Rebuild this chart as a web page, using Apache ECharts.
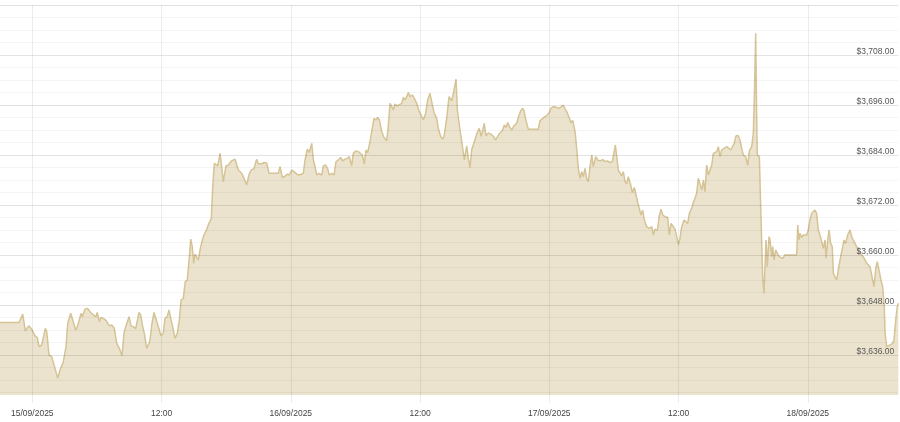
<!DOCTYPE html>
<html>
<head>
<meta charset="utf-8">
<script src="https://cdn.jsdelivr.net/npm/echarts@6/dist/echarts.min.js"></script>
<style>
html,body{margin:0;padding:0;background:#fff;}
#chart{width:900px;height:422px;}
</style>
</head>
<body>
<div id="chart"></div>
<script>
// Hours relative to 15/09/2025 00:00
const hours = [
-3.00,-1.23,-0.89,-0.65,-0.33,-0.06,0.25,0.46,0.62,0.87,1.02,1.21,1.34,1.55,1.80,2.11,2.36,2.57,2.88,3.13,3.29,3.57,3.75,3.87,4.03,4.21,4.34,4.52,4.64,4.89,5.11,5.36,5.66,5.91,6.03,6.22,6.38,6.59,6.84,7.00,7.15,7.37,7.61,7.84,8.08,8.33,8.51,8.67,8.76,8.98,9.16,9.38,9.60,9.75,9.91,10.06,10.25,10.40,10.62,10.83,
10.93,11.09,11.30,11.48,11.70,11.95,12.16,12.32,12.53,12.69,12.85,13.03,13.25,13.46,13.65,13.81,14.02,14.20,14.39,14.58,14.71,14.85,14.98,15.11,15.26,15.41,15.63,15.88,16.10,16.28,16.40,16.62,16.75,16.90,17.06,17.21,17.43,17.58,17.73,17.98,18.20,18.35,18.51,18.66,18.82,18.98,19.13,19.28,19.44,19.65,19.90,20.15,20.37,20.58,20.83,20.98,21.14,21.30,21.51,21.76,21.98,22.37,22.84,23.00,23.21,23.46,23.67,23.86,24.08,24.30,24.55,24.79,
25.16,25.32,25.53,25.72,25.94,26.09,26.25,26.40,26.62,26.87,27.02,27.24,27.43,27.57,27.80,28.01,28.20,28.41,28.63,28.82,29.03,29.24,29.43,29.65,29.80,30.05,30.27,30.42,30.64,30.82,30.98,31.14,31.35,31.51,31.72,31.91,32.07,32.22,32.44,32.65,32.90,33.05,33.21,33.37,33.52,33.67,33.89,34.07,34.30,34.44,34.60,34.76,34.91,35.07,35.28,35.47,35.69,35.90,36.09,36.30,36.52,36.71,36.92,37.14,37.32,37.54,37.69,37.92,38.10,38.25,38.47,38.69,
38.94,39.11,39.34,39.46,39.71,39.87,40.02,40.11,40.33,40.48,40.64,40.79,41.01,41.19,41.31,41.50,41.66,41.82,41.96,42.12,42.34,42.56,42.80,43.02,43.21,43.42,43.64,43.82,43.98,44.14,44.29,44.51,44.72,44.97,45.12,45.34,45.53,45.65,45.84,46.05,46.98,47.13,47.39,47.60,47.81,48.00,48.13,48.37,48.62,48.83,49.06,49.30,49.46,49.67,49.86,50.01,50.17,50.39,50.54,50.69,50.85,51.01,51.16,51.31,51.47,51.62,51.78,51.94,52.08,52.31,52.49,52.71,
52.96,53.17,53.38,53.63,53.85,54.01,54.13,54.26,54.40,54.56,54.72,54.87,55.03,55.18,55.33,55.56,55.70,55.89,56.05,56.21,56.35,56.51,56.67,56.82,57.04,57.26,57.51,57.65,57.81,58.03,58.21,58.37,58.53,58.74,58.99,59.14,59.30,59.46,59.67,59.83,59.98,60.13,60.29,60.51,60.69,60.85,61.00,61.22,61.37,61.53,61.68,61.83,61.99,62.15,62.30,62.45,62.61,62.76,62.92,63.08,63.23,63.38,63.54,63.69,63.85,64.00,64.22,64.47,64.62,64.84,64.99,65.17,65.33,65.55,65.70,65.86,66.01,66.23,66.42,66.57,
66.79,66.94,67.03,67.16,67.25,67.31,67.50,67.65,67.81,67.93,68.02,68.12,68.24,68.40,68.49,68.65,68.74,68.86,69.02,69.17,69.33,69.51,69.67,69.88,70.97,71.06,71.18,71.27,71.43,71.58,71.74,71.90,72.04,72.20,72.36,72.51,72.67,72.82,72.97,73.13,73.29,73.44,73.60,73.69,73.85,73.97,74.12,74.27,74.37,74.52,74.68,74.83,74.99,75.24,75.36,75.52,75.70,75.92,76.07,76.22,76.38,76.54,76.69,76.84,77.15,77.47,77.77,77.93,78.14,78.33,78.45,78.64,78.79,78.95,79.10,79.17,79.32,79.47,79.69,79.88,80.00,80.16,80.31,80.40
];
const prices = [
3643.8,3643.8,3645.8,3641.8,3643.0,3642.2,3640.6,3640.2,3638.0,3638.4,3638.0,3642.4,3641.6,3636.0,3635.6,3632.8,3630.4,3632.4,3634.4,3638.0,3643.6,3646.0,3644.4,3644.8,3642.0,3643.0,3642.7,3646.0,3645.2,3647.0,3647.2,3646.4,3645.6,3645.2,3646.2,3644.0,3645.0,3644.8,3644.3,3644.6,3643.0,3643.2,3642.4,3638.8,3637.6,3635.8,3641.2,3642.8,3642.5,3645.2,3643.0,3642.8,3642.3,3642.0,3646.2,3645.6,3642.8,3641.2,3637.6,3638.8,
3639.6,3643.2,3646.2,3646.1,3642.8,3640.6,3641.2,3644.8,3645.2,3646.8,3644.8,3642.8,3640.0,3641.2,3644.4,3649.2,3649.6,3653.6,3654.0,3659.6,3663.8,3662.0,3658.0,3660.2,3660.0,3658.8,3662.0,3664.4,3665.6,3665.6,3667.6,3668.8,3676.4,3682.0,3682.2,3681.4,3684.4,3681.2,3677.6,3681.4,3681.6,3681.4,3682.6,3682.2,3683.0,3683.2,3680.4,3680.5,3679.6,3678.4,3676.8,3679.6,3680.5,3680.7,3683.0,3681.9,3682.2,3681.9,3682.2,3682.1,3679.6,3679.6,3679.6,3681.2,3678.6,3678.9,3679.4,3679.2,3680.4,3680.0,3679.4,3679.2,
3679.6,3682.8,3685.4,3684.6,3686.8,3682.8,3681.2,3679.2,3679.6,3679.2,3681.4,3681.6,3680.6,3679.2,3679.6,3679.2,3682.4,3682.8,3683.4,3682.6,3683.0,3683.2,3683.6,3681.4,3684.4,3685.0,3684.8,3685.2,3684.0,3681.8,3685.2,3684.6,3687.2,3686.8,3692.8,3692.4,3693.0,3692.4,3689.6,3688.2,3687.4,3690.8,3696.4,3695.6,3694.8,3696.2,3695.8,3695.6,3696.4,3697.8,3697.2,3698.0,3699.0,3698.0,3698.4,3697.6,3696.4,3694.6,3693.6,3692.4,3694.0,3697.2,3698.8,3696.0,3694.0,3692.8,3690.4,3688.4,3687.8,3688.8,3692.8,3698.0,
3697.0,3699.0,3702.2,3694.8,3690.0,3687.2,3686.8,3682.8,3686.2,3683.2,3681.0,3685.2,3687.0,3687.2,3689.4,3690.4,3688.5,3690.0,3691.6,3688.6,3689.3,3689.0,3688.5,3687.6,3688.5,3689.3,3689.9,3691.2,3690.6,3691.8,3690.8,3690.0,3691.0,3691.6,3693.0,3694.6,3695.2,3694.6,3692.2,3690.2,3690.2,3692.2,3692.8,3693.2,3693.6,3694.2,3695.2,3695.6,3695.5,3695.2,3695.5,3695.9,3695.1,3694.1,3692.9,3691.7,3692.3,3689.6,3685.6,3680.8,3678.4,3680.0,3678.8,3680.8,3678.4,3677.6,3681.2,3684.0,3681.2,3683.6,3682.8,3682.6,
3682.9,3682.4,3682.6,3682.2,3682.4,3682.4,3686.4,3683.6,3680.4,3680.8,3679.0,3680.0,3677.6,3677.1,3678.8,3676.8,3675.0,3676.2,3674.4,3672.6,3671.2,3669.6,3670.8,3668.4,3666.8,3666.4,3666.8,3664.8,3666.2,3665.9,3669.4,3671.0,3669.6,3669.2,3669.0,3664.8,3667.6,3667.2,3666.2,3664.4,3662.4,3664.0,3666.8,3668.4,3668.8,3667.6,3670.0,3671.2,3672.6,3673.6,3674.8,3678.4,3678.8,3675.6,3678.0,3675.2,3681.6,3679.2,3678.8,3681.6,3684.4,3684.0,3684.8,3686.0,3683.6,3685.2,3685.6,3686.0,3686.4,3685.2,3684.8,3686.8,3688.6,3688.6,3687.6,3685.6,3684.0,3683.6,3681.5,3685.0,
3686.0,3689.2,3697.2,3713.2,3693.2,3684.0,3683.6,3669.2,3654.8,3650.8,3650.8,3663.6,3657.2,3664.4,3663.6,3659.6,3662.0,3658.8,3661.2,3660.4,3659.6,3660.0,3659.2,3660.0,3660.0,3667.2,3663.6,3665.2,3664.2,3664.8,3664.4,3664.8,3666.0,3668.4,3670.0,3670.4,3670.8,3670.0,3666.0,3664.8,3664.4,3661.6,3663.6,3659.2,3663.6,3666.0,3662.8,3662.0,3655.6,3654.8,3654.0,3656.4,3658.8,3662.0,3663.6,3662.8,3664.8,3666.0,3664.4,3663.6,3662.8,3662.4,3661.2,3660.4,3659.6,3658.0,3657.2,3655.2,3652.4,3657.2,3658.4,3656.0,3654.0,3652.4,3647.6,3641.3,3638.0,3638.2,3638.5,3638.8,3639.6,3644.4,3647.6,3648.4
];
// Axis ticks (hours from 15/09/2025 00:00) and tick labels
const xTickHours = [0, 12, 24, 36, 48, 60, 72];
const xTickLabels = ['15/09/2025', '12:00', '16/09/2025', '12:00', '17/09/2025', '12:00', '18/09/2025'];
const yGridValues = [];
for (let v = 3627; v <= 3720; v += 3) yGridValues.push(v);
const yLabelValues = [3636, 3648, 3660, 3672, 3684, 3696, 3708];
const xMinHour = -3.0, xMaxHour = 80.40;
const yMin = 3626.4, yMax = 3720;

const seriesData = hours.map((h, i) => [h, prices[i]]);

function fmtX(v) {
  const i = xTickHours.indexOf(Math.round(v));
  return i >= 0 ? xTickLabels[i] : '';
}
function fmtY(v) {
  return '$' + v.toLocaleString('en-US', { minimumFractionDigits: 2, maximumFractionDigits: 2 });
}

const chart = echarts.init(document.getElementById('chart'), null, { renderer: 'canvas' });
const minorC = 'rgba(0,0,0,0.045)';
const majorC = 'rgba(0,0,0,0.11)';
chart.setOption({
  animation: false,
  grid: { left: 0, right: 1.7, top: 5, bottom: 27, containLabel: false },
  xAxis: {
    type: 'value',
    min: xMinHour,
    max: xMaxHour,
    z: 3,
    axisLine: { show: false },
    axisTick: { show: true, customValues: xTickHours, length: 8, lineStyle: { color: 'rgba(0,0,0,0.07)' } },
    axisLabel: {
      customValues: xTickHours,
      formatter: fmtX,
      fontSize: 8.5,
      fontFamily: 'Arial, "Liberation Sans", sans-serif',
      color: '#444',
      margin: 14,
      hideOverlap: false
    },
    splitLine: { show: true, lineStyle: { color: 'rgba(0,0,0,0.07)', width: 1 } }
  },
  yAxis: {
    type: 'value',
    position: 'right',
    min: yMin,
    max: yMax,
    z: 3,
    axisLine: { show: false },
    axisTick: { show: false, customValues: yGridValues },
    axisLabel: {
      customValues: yLabelValues,
      inside: true,
      margin: 4,
      formatter: fmtY,
      fontSize: 8.5,
      lineHeight: 7,
      fontFamily: 'Arial, "Liberation Sans", sans-serif',
      color: '#555',
      verticalAlign: 'bottom'
    },
    splitLine: { show: true, lineStyle: { color: [minorC, minorC, minorC, majorC], width: 1 } }
  },
  series: [{
    type: 'line',
    data: seriesData,
    showSymbol: false,
    symbol: 'none',
    z: 2,
    lineStyle: { color: '#d6c496', width: 1.5 },
    areaStyle: { color: '#ebe3cd', opacity: 1, origin: 'start' }
  }]
});
</script>
</body>
</html>
